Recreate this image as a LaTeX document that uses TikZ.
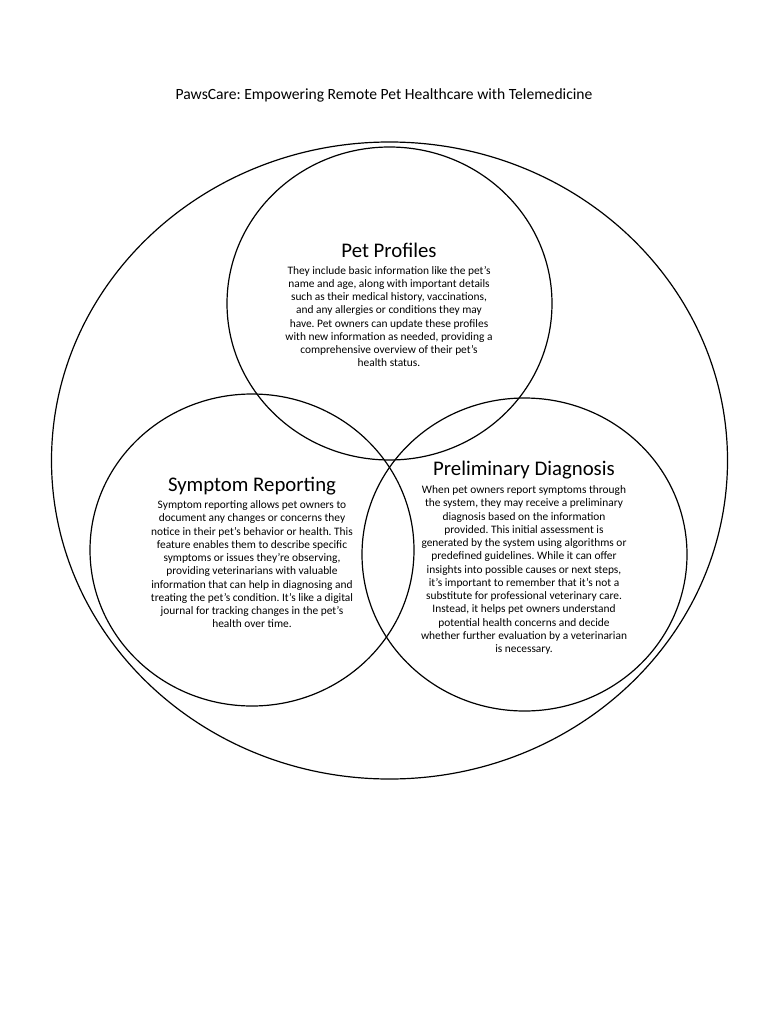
\documentclass[tikz,border=0pt]{standalone}
\usepackage{fontspec}
\setmainfont{Carlito}
\usetikzlibrary{shapes.geometric}
\frenchspacing
\tikzset{
  ring/.style={draw=black, line width=1.2pt, ellipse, inner sep=0pt},
  titletext/.style={anchor=base, inner sep=0pt, font=\fontsize{15.6}{18}\selectfont},
  headtext/.style={anchor=base, inner sep=0pt, font=\fontsize{20.8}{24}\selectfont},
  bodytext/.style={anchor=north, inner sep=0pt, align=center, font=\fontsize{11.4}{13.25}\selectfont}
}
\begin{document}
\begin{tikzpicture}[x=1pt,y=-1pt]
\useasboundingbox (0,0) rectangle (768,1024);
\fill[white] (0,0) rectangle (768,1024);
\node[titletext] (title) at (384,100) {PawsCare: Empowering Remote Pet Healthcare with Telemedicine};
\node[ring, minimum width=676pt, minimum height=637pt] (outer) at (389.5,460.5) {};
\node[ring, minimum width=325pt, minimum height=313pt] (topc) at (389.5,303.5) {};
\node[ring, minimum width=324pt, minimum height=312pt] (leftc) at (252,550) {};
\node[ring, minimum width=325pt, minimum height=313pt] (rightc) at (524.5,554.5) {};
\node[headtext] (h1) at (389,257) {Pet Profiles};
\node[bodytext] (b1) at (389,266) {They include basic information like the pet's\\name and age, along with important details\\such as their medical history, vaccinations,\\and any allergies or conditions they may\\have. Pet owners can update these profiles\\with new information as needed, providing a\\comprehensive overview of their pet's\\health status.};
\node[headtext] (h2) at (252,491) {Symptom Reporting};
\node[bodytext] (b2) at (252,500.5) {Symptom reporting allows pet owners to\\document any changes or concerns they\\notice in their pet's behavior or health. This\\feature enables them to describe specific\\symptoms or issues they're observing,\\providing veterinarians with valuable\\information that can help in diagnosing and\\treating the pet's condition. It's like a digital\\journal for tracking changes in the pet's\\health over time.};
\node[headtext] (h3) at (524,475) {Preliminary Diagnosis};
\node[bodytext] (b3) at (524,485.5) {When pet owners report symptoms through\\the system, they may receive a preliminary\\diagnosis based on the information\\provided. This initial assessment is\\generated by the system using algorithms or\\predefined guidelines. While it can offer\\insights into possible causes or next steps,\\it's important to remember that it's not a\\substitute for professional veterinary care.\\Instead, it helps pet owners understand\\potential health concerns and decide\\whether further evaluation by a veterinarian\\is necessary.};
\end{tikzpicture}
\end{document}
